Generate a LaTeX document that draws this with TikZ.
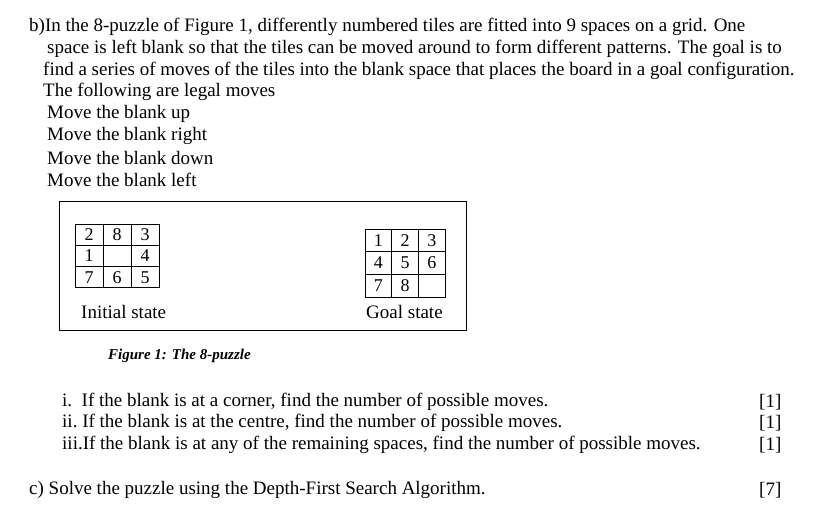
\documentclass[tikz,border=0pt]{standalone}
\usepackage{fontspec}
\setmainfont{Liberation Serif}
\begin{document}
\begin{tikzpicture}[x=1pt,y=-1pt,
 txt/.style={anchor=west,inner sep=0pt,font=\fontsize{19}{21}\selectfont},
 cell/.style={draw,line width=0.8pt,minimum width=#1,inner sep=0pt,outer sep=0pt,anchor=north west,font=\fontsize{18}{20}\selectfont}]
\useasboundingbox (0,0) rectangle (820,518);
\node[txt] (l1) at (29,27) {b)In the 8-puzzle of Figure 1, differently numbered tiles are fitted into 9 spaces on a grid. One};
\node[txt] (l2) at (47,49) {space is left blank so that the tiles can be moved around to form different patterns. The goal is to};
\node[txt] (l3) at (43,71) {find a series of moves of the tiles into the blank space that places the board in a goal configuration.};
\node[txt] (l4) at (43,92) {The following are legal moves};
\node[txt] (m1) at (47,114) {Move the blank up};
\node[txt] (m2) at (47,136) {Move the blank right};
\node[txt] (m3) at (47,158) {Move the blank down};
\node[txt] (m4) at (47,180) {Move the blank left};
\draw[line width=1pt] (59,202) rectangle (466,331);
\foreach \t [count=\i from 0] in {2,8,3,1,,4,7,6,5}{
  \pgfmathtruncatemacro\c{mod(\i,3)}\pgfmathtruncatemacro\r{div(\i,3)}
  \node[cell=28pt,minimum height=21.3pt] (a\i) at (75+28*\c,224+21.3*\r) {\t};}
\foreach \t [count=\i from 0] in {1,2,3,4,5,6,7,8,}{
  \pgfmathtruncatemacro\c{mod(\i,3)}\pgfmathtruncatemacro\r{div(\i,3)}
  \node[cell=26.7pt,minimum height=22.7pt] (g\i) at (365+26.7*\c,229+22.7*\r) {\t};}
\node[txt] (is) at (81,312) {Initial state};
\node[txt] (gs) at (366,312) {Goal state};
\node[txt,font=\fontsize{15}{17}\selectfont\bfseries\itshape] (cap) at (108,356) {Figure 1: The 8-puzzle};
\node[txt] (q1) at (62,402) {i.\ \ If the blank is at a corner, find the number of possible moves.};
\node[txt] (q2) at (62,423) {ii.\ If the blank is at the centre, find the number of possible moves.};
\node[txt] (q3) at (62,445) {iii.If the blank is at any of the remaining spaces, find the number of possible moves.};
\node[txt] (k1) at (759,402) {[1]};
\node[txt] (k2) at (759,423) {[1]};
\node[txt] (k3) at (759,445) {[1]};
\node[txt] (c) at (29,490) {c) Solve the puzzle using the Depth-First Search Algorithm.};
\node[txt] (k4) at (759,490) {[7]};
\end{tikzpicture}
\end{document}
